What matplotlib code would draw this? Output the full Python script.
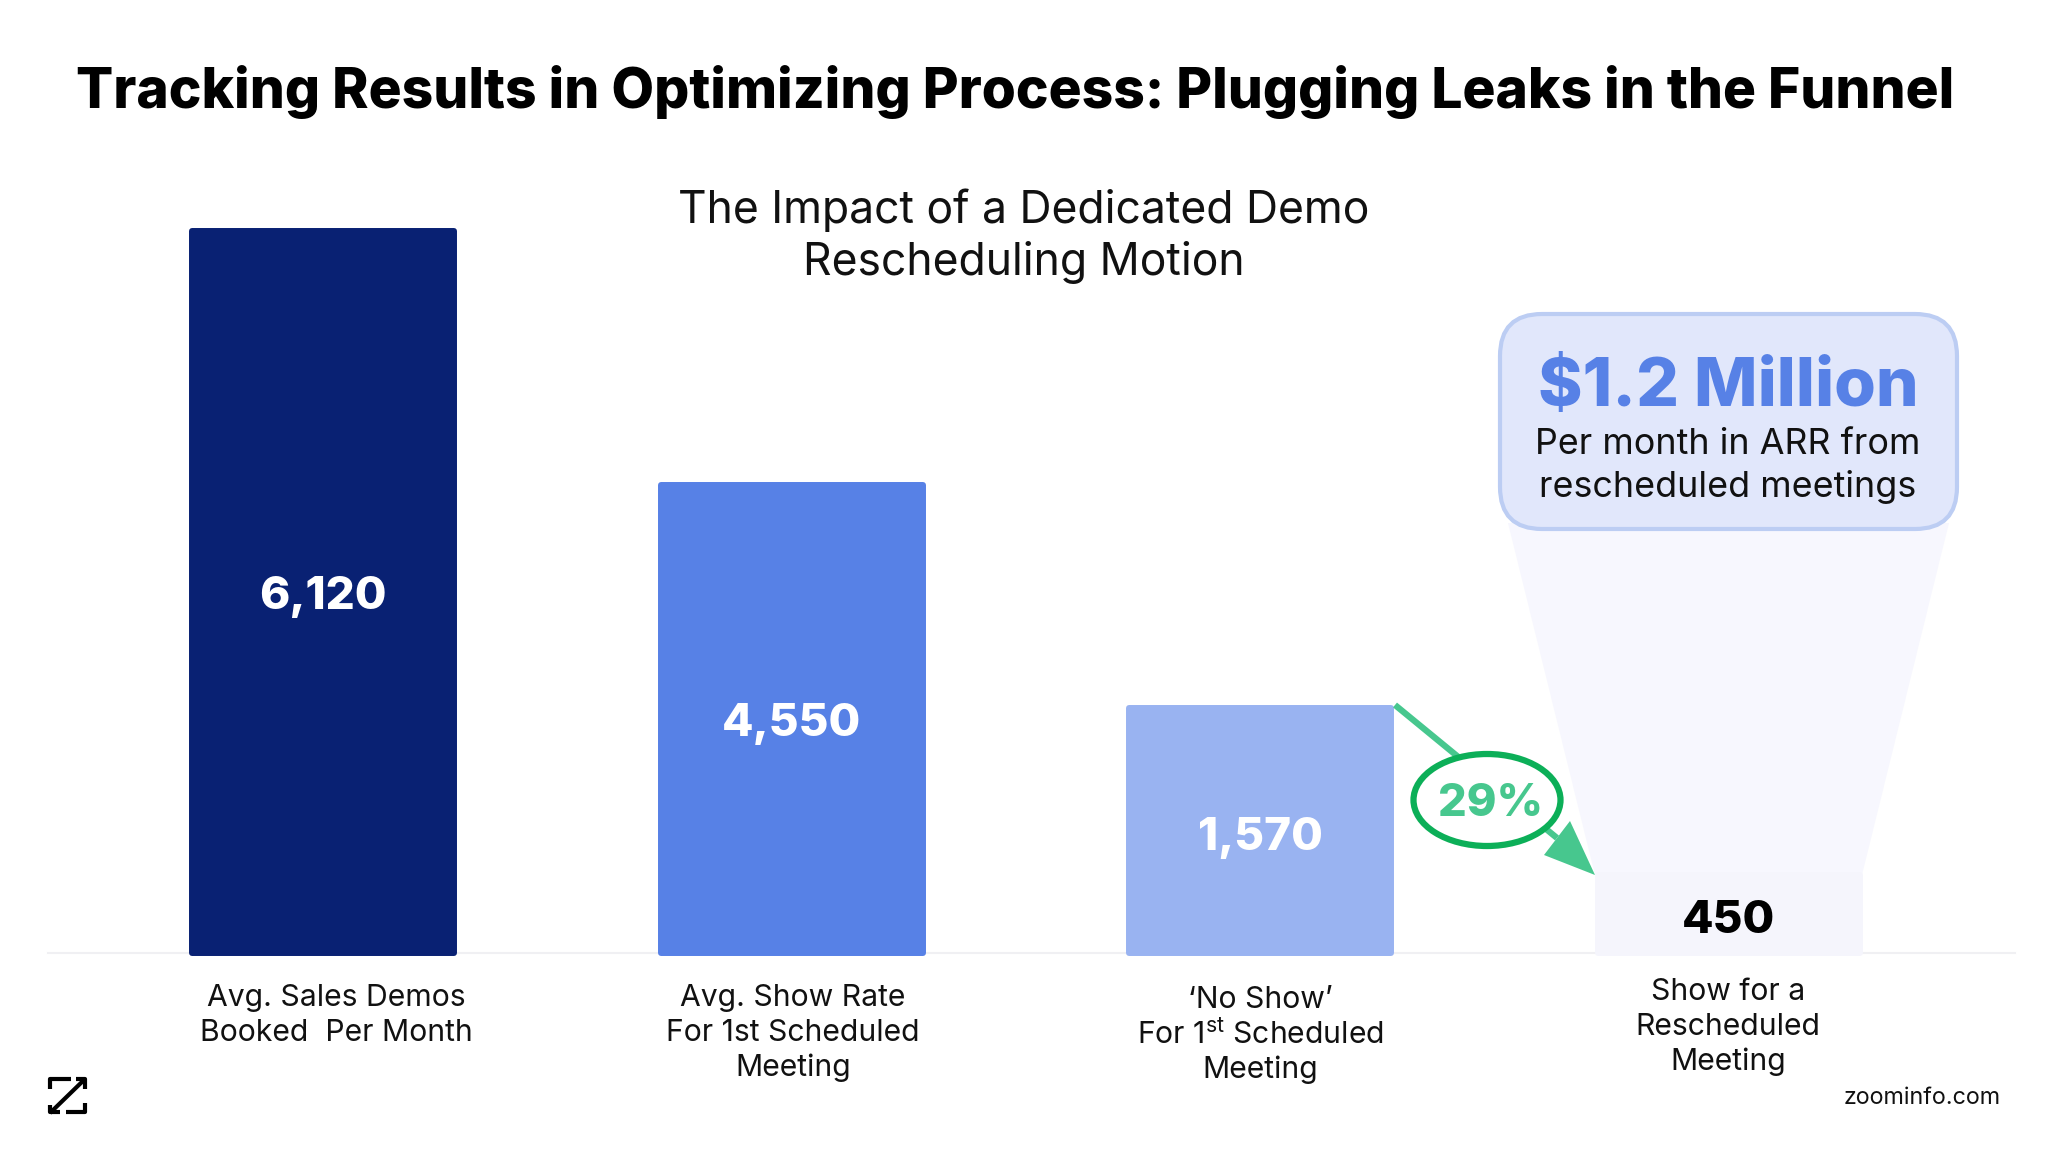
import numpy as np
import matplotlib
matplotlib.use("Agg")
import matplotlib.pyplot as plt
from matplotlib.patches import FancyBboxPatch, Ellipse, Polygon

plt.rcParams["font.family"] = ["Inter", "DejaVu Sans"]
plt.rcParams["mathtext.default"] = "regular"

W, H = 2048, 1152

# bars are not to scale in the original, so drawn heights are kept apart from the labels
categories = ["Avg. Sales Demos\nBooked  Per Month",
              "Avg. Show Rate\nFor 1st Scheduled\nMeeting",
              "\u2018No Show\u2019\nFor 1$^{st}$ Scheduled\nMeeting",
              "Show for a\nRescheduled\nMeeting"]
value_labels = ["6,120", "4,550", "1,570", "450"]
drawn_heights = [6120, 3967, 2077, 661]
bar_colors = ["#092173", "#5781e6", "#99b3f1", "#f5f5fc"]
label_colors = ["white", "white", "white", "black"]

fig = plt.figure(figsize=(W / 100, H / 100), dpi=100, facecolor="white")

# background axes in pixels, for the funnel
bg = fig.add_axes([0, 0, 1, 1], zorder=0)
bg.set_xlim(0, W)
bg.set_ylim(H, 0)
bg.axis("off")
bg.add_patch(Polygon([(1508, 523), (1949, 523), (1862, 875), (1595, 875)],
                     closed=True, facecolor="#f7f7fe", edgecolor="none"))

# bar axes: bar centres 468.5 px apart, starting at x=323
centre0, step = 323, 468.5
left, right, base, top = 48, 2015, 953, 231
ax = fig.add_axes([left / W, 1 - base / H, (right - left) / W, (base - top) / H], zorder=1)
ax.patch.set_alpha(0)
ax.set_xlim((left - centre0) / step, (right - centre0) / step)
ax.set_ylim(0, 6120)
x = np.arange(len(categories))
ax.bar(x, drawn_heights, width=262 / step, color=bar_colors, edgecolor=bar_colors,
       linewidth=4.3, joinstyle="round", clip_on=False, zorder=3)
for s in ["top", "left", "right"]:
    ax.spines[s].set_visible(False)
ax.spines["bottom"].set_color("#f0f0f3")
ax.spines["bottom"].set_linewidth(1.5)
ax.spines["bottom"].set_zorder(1)
ax.set_xticks([])
ax.set_yticks([])

# value labels and category labels, placed in pixels
value_x = [323, 792, 1260, 1728]
value_y = [597, 724, 838, 921]
cat_x = [336, 793, 1260, 1728]
cat_y = [984, 984, 986, 978]
cat_spacing = [1.3, 1.3, 1.22, 1.3]

ov = fig.add_axes([0, 0, 1, 1], zorder=2)
ov.set_xlim(0, W)
ov.set_ylim(H, 0)
ov.axis("off")

for i in range(len(categories)):
    ov.text(value_x[i], value_y[i], value_labels[i], color=label_colors[i], fontsize=33,
            fontweight="heavy", ha="center", va="center")
    ov.text(cat_x[i], cat_y[i], categories[i], color="#111111", fontsize=21.7, ha="center", va="top",
            linespacing=cat_spacing[i])

ov.text(1015, 92, "Tracking Results in Optimizing Process: Plugging Leaks in the Funnel",
        fontsize=39.7, fontweight="heavy", color="black", ha="center", va="center")
ov.text(1024, 236, "The Impact of a Dedicated Demo\nRescheduling Motion", fontsize=32,
        color="#111111", ha="center", va="center", linespacing=1.27)

# callout box
ov.add_patch(FancyBboxPatch((1500, 314), 457, 215, boxstyle="round,pad=0,rounding_size=42",
                            facecolor="#e1e7fb", edgecolor="#bccdf3", linewidth=3))
ov.text(1728, 389, r"\$1.2 Million", fontsize=48.6, fontweight="heavy", color="#5781e6",
        ha="center", va="center")
ov.text(1728, 466, "Per month in ARR from\nrescheduled meetings", fontsize=25.8, color="#111111",
        ha="center", va="center", linespacing=1.3)

# green arrow and percentage
ov.plot([1395, 1557], [705, 838], color="#47c78e", lw=4.5, solid_capstyle="butt", zorder=1)
ov.add_patch(Polygon([(1595, 875), (1570, 821), (1544, 855)], closed=True, facecolor="#47c78e",
                     edgecolor="none", zorder=1))
ov.add_patch(Ellipse((1487, 800), 147, 92, facecolor="white", edgecolor="#0caf58", linewidth=4.5,
                     zorder=2))
ov.text(1491, 804, "29%", fontsize=32.5, fontweight="heavy", color="#47c78e", ha="center",
        va="center", zorder=3)

# logo
logo_x = [[50, 50, 71], [76, 85, 85], [50, 85], [50, 50, 60], [66, 85, 85]]
logo_y = [[1089, 1079, 1079], [1079, 1079, 1089], [1113, 1079], [1105, 1112, 1112],
          [1112, 1112, 1103]]
for lx, ly in zip(logo_x, logo_y):
    ov.plot(lx, ly, color="black", lw=3, solid_capstyle="butt")

ov.text(2001, 1098, "zoominfo.com", fontsize=16.8, color="#111111", ha="right", va="center")

fig.savefig("out.png", dpi=100)
